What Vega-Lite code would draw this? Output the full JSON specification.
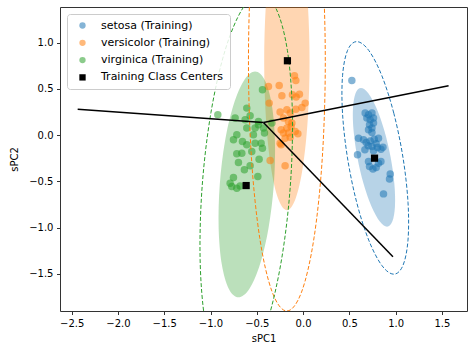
{
  "$schema": "https://vega.github.io/schema/vega-lite/v6.json",
  "width": 407,
  "height": 304,
  "autosize": {"type": "none"},
  "padding": {"left": 60, "top": 7, "right": 7, "bottom": 43},
  "config": {
    "font": "DejaVu Sans",
    "view": {"stroke": "#333", "strokeWidth": 1},
    "axis": {"grid": false, "domain": false, "tickColor": "#333", "tickSize": 3.5, "labelFontSize": 10, "labelColor": "#000", "titleFontSize": 10, "titleFontWeight": "normal", "titleColor": "#000", "labelPadding": 3.5, "titlePadding": 5},
    "axisY": {"titlePadding": 9}
  },
  "datasets": {
    "fills": [
      {"cls": "setosa", "i": 0, "x": 0.946, "y": -0.239},
      {"cls": "setosa", "i": 1, "x": 0.8784, "y": 0.0476},
      {"cls": "setosa", "i": 2, "x": 0.7937, "y": 0.2906},
      {"cls": "setosa", "i": 3, "x": 0.7048, "y": 0.453},
      {"cls": "setosa", "i": 4, "x": 0.6252, "y": 0.51},
      {"cls": "setosa", "i": 5, "x": 0.567, "y": 0.453},
      {"cls": "setosa", "i": 6, "x": 0.5391, "y": 0.2906},
      {"cls": "setosa", "i": 7, "x": 0.5458, "y": 0.0476},
      {"cls": "setosa", "i": 8, "x": 0.586, "y": -0.239},
      {"cls": "setosa", "i": 9, "x": 0.6536, "y": -0.5256},
      {"cls": "setosa", "i": 10, "x": 0.7383, "y": -0.7686},
      {"cls": "setosa", "i": 11, "x": 0.8272, "y": -0.931},
      {"cls": "setosa", "i": 12, "x": 0.9068, "y": -0.988},
      {"cls": "setosa", "i": 13, "x": 0.965, "y": -0.931},
      {"cls": "setosa", "i": 14, "x": 0.9929, "y": -0.7686},
      {"cls": "setosa", "i": 15, "x": 0.9862, "y": -0.5256},
      {"cls": "versicolor", "i": 0, "x": 0.07, "y": 0.8},
      {"cls": "versicolor", "i": 1, "x": 0.0514, "y": 1.4161},
      {"cls": "versicolor", "i": 2, "x": -0.0018, "y": 1.9384},
      {"cls": "versicolor", "i": 3, "x": -0.0812, "y": 2.2875},
      {"cls": "versicolor", "i": 4, "x": -0.175, "y": 2.41},
      {"cls": "versicolor", "i": 5, "x": -0.2688, "y": 2.2875},
      {"cls": "versicolor", "i": 6, "x": -0.3482, "y": 1.9384},
      {"cls": "versicolor", "i": 7, "x": -0.4014, "y": 1.4161},
      {"cls": "versicolor", "i": 8, "x": -0.42, "y": 0.8},
      {"cls": "versicolor", "i": 9, "x": -0.4014, "y": 0.1839},
      {"cls": "versicolor", "i": 10, "x": -0.3482, "y": -0.3384},
      {"cls": "versicolor", "i": 11, "x": -0.2688, "y": -0.6875},
      {"cls": "versicolor", "i": 12, "x": -0.175, "y": -0.81},
      {"cls": "versicolor", "i": 13, "x": -0.0812, "y": -0.6875},
      {"cls": "versicolor", "i": 14, "x": -0.0018, "y": -0.3384},
      {"cls": "versicolor", "i": 15, "x": 0.0514, "y": 0.1839},
      {"cls": "virginica", "i": 0, "x": -0.316, "y": -0.532},
      {"cls": "virginica", "i": 1, "x": -0.3038, "y": -0.0651},
      {"cls": "virginica", "i": 2, "x": -0.3379, "y": 0.3307},
      {"cls": "virginica", "i": 3, "x": -0.4131, "y": 0.5952},
      {"cls": "virginica", "i": 4, "x": -0.518, "y": 0.688},
      {"cls": "virginica", "i": 5, "x": -0.6365, "y": 0.5952},
      {"cls": "virginica", "i": 6, "x": -0.7509, "y": 0.3307},
      {"cls": "virginica", "i": 7, "x": -0.8434, "y": -0.0651},
      {"cls": "virginica", "i": 8, "x": -0.9, "y": -0.532},
      {"cls": "virginica", "i": 9, "x": -0.9122, "y": -0.9989},
      {"cls": "virginica", "i": 10, "x": -0.8781, "y": -1.3947},
      {"cls": "virginica", "i": 11, "x": -0.8029, "y": -1.6592},
      {"cls": "virginica", "i": 12, "x": -0.698, "y": -1.752},
      {"cls": "virginica", "i": 13, "x": -0.5795, "y": -1.6592},
      {"cls": "virginica", "i": 14, "x": -0.4651, "y": -1.3947},
      {"cls": "virginica", "i": 15, "x": -0.3726, "y": -0.9989}
    ],
    "dashes": [
      {"cls": "setosa", "i": 0, "x": 1.08, "y": -0.245},
      {"cls": "setosa", "i": 1, "x": 0.9807, "y": 0.236},
      {"cls": "setosa", "i": 2, "x": 0.8507, "y": 0.6438},
      {"cls": "setosa", "i": 3, "x": 0.71, "y": 0.9163},
      {"cls": "setosa", "i": 4, "x": 0.58, "y": 1.012},
      {"cls": "setosa", "i": 5, "x": 0.4804, "y": 0.9163},
      {"cls": "setosa", "i": 6, "x": 0.4265, "y": 0.6438},
      {"cls": "setosa", "i": 7, "x": 0.4263, "y": 0.236},
      {"cls": "setosa", "i": 8, "x": 0.48, "y": -0.245},
      {"cls": "setosa", "i": 9, "x": 0.5793, "y": -0.726},
      {"cls": "setosa", "i": 10, "x": 0.7093, "y": -1.1338},
      {"cls": "setosa", "i": 11, "x": 0.85, "y": -1.4063},
      {"cls": "setosa", "i": 12, "x": 0.98, "y": -1.502},
      {"cls": "setosa", "i": 13, "x": 1.0796, "y": -1.4063},
      {"cls": "setosa", "i": 14, "x": 1.1335, "y": -1.1338},
      {"cls": "setosa", "i": 15, "x": 1.1337, "y": -0.726},
      {"cls": "versicolor", "i": 0, "x": 0.24, "y": 0.8},
      {"cls": "versicolor", "i": 1, "x": 0.2084, "y": 1.8333},
      {"cls": "versicolor", "i": 2, "x": 0.1184, "y": 2.7092},
      {"cls": "versicolor", "i": 3, "x": -0.0162, "y": 3.2945},
      {"cls": "versicolor", "i": 4, "x": -0.175, "y": 3.5},
      {"cls": "versicolor", "i": 5, "x": -0.3338, "y": 3.2945},
      {"cls": "versicolor", "i": 6, "x": -0.4684, "y": 2.7092},
      {"cls": "versicolor", "i": 7, "x": -0.5584, "y": 1.8333},
      {"cls": "versicolor", "i": 8, "x": -0.59, "y": 0.8},
      {"cls": "versicolor", "i": 9, "x": -0.5584, "y": -0.2333},
      {"cls": "versicolor", "i": 10, "x": -0.4684, "y": -1.1092},
      {"cls": "versicolor", "i": 11, "x": -0.3338, "y": -1.6945},
      {"cls": "versicolor", "i": 12, "x": -0.175, "y": -1.9},
      {"cls": "versicolor", "i": 13, "x": -0.0162, "y": -1.6945},
      {"cls": "versicolor", "i": 14, "x": 0.1184, "y": -1.1092},
      {"cls": "versicolor", "i": 15, "x": 0.2084, "y": -0.2333},
      {"cls": "virginica", "i": 0, "x": -0.138, "y": -0.55},
      {"cls": "virginica", "i": 1, "x": -0.1158, "y": 0.2437},
      {"cls": "virginica", "i": 2, "x": -0.1694, "y": 0.9165},
      {"cls": "virginica", "i": 3, "x": -0.2907, "y": 1.3662},
      {"cls": "virginica", "i": 4, "x": -0.4613, "y": 1.524},
      {"cls": "virginica", "i": 5, "x": -0.6551, "y": 1.3662},
      {"cls": "virginica", "i": 6, "x": -0.8426, "y": 0.9165},
      {"cls": "virginica", "i": 7, "x": -0.9954, "y": 0.2437},
      {"cls": "virginica", "i": 8, "x": -1.09, "y": -0.55},
      {"cls": "virginica", "i": 9, "x": -1.1122, "y": -1.3437},
      {"cls": "virginica", "i": 10, "x": -1.0586, "y": -2.0165},
      {"cls": "virginica", "i": 11, "x": -0.9373, "y": -2.4662},
      {"cls": "virginica", "i": 12, "x": -0.7667, "y": -2.624},
      {"cls": "virginica", "i": 13, "x": -0.5729, "y": -2.4662},
      {"cls": "virginica", "i": 14, "x": -0.3854, "y": -2.0165},
      {"cls": "virginica", "i": 15, "x": -0.2326, "y": -1.3437}
    ],
    "segs": [
      {"x": -2.435, "y": 0.282, "x2": -0.428, "y2": 0.137},
      {"x": -0.428, "y": 0.137, "x2": 1.572, "y2": 0.535},
      {"x": -0.428, "y": 0.137, "x2": 0.971, "y2": -1.313}
    ],
    "pts": [
      {"label": "setosa (Training)", "x": 0.527, "y": 0.592},
      {"label": "setosa (Training)", "x": 0.671, "y": 0.239},
      {"label": "setosa (Training)", "x": 0.707, "y": 0.221},
      {"label": "setosa (Training)", "x": 0.744, "y": 0.239},
      {"label": "setosa (Training)", "x": 0.689, "y": 0.185},
      {"label": "setosa (Training)", "x": 0.725, "y": 0.167},
      {"label": "setosa (Training)", "x": 0.761, "y": 0.185},
      {"label": "setosa (Training)", "x": 0.718, "y": 0.113},
      {"label": "setosa (Training)", "x": 0.744, "y": 0.077},
      {"label": "setosa (Training)", "x": 0.761, "y": 0.131},
      {"label": "setosa (Training)", "x": 0.707, "y": 0.058},
      {"label": "setosa (Training)", "x": 0.744, "y": 0.029},
      {"label": "setosa (Training)", "x": 0.599, "y": -0.032},
      {"label": "setosa (Training)", "x": 0.653, "y": -0.05},
      {"label": "setosa (Training)", "x": 0.682, "y": -0.079},
      {"label": "setosa (Training)", "x": 0.725, "y": -0.061},
      {"label": "setosa (Training)", "x": 0.769, "y": -0.043},
      {"label": "setosa (Training)", "x": 0.79, "y": -0.093},
      {"label": "setosa (Training)", "x": 0.815, "y": -0.032},
      {"label": "setosa (Training)", "x": 0.804, "y": -0.133},
      {"label": "setosa (Training)", "x": 0.841, "y": -0.151},
      {"label": "setosa (Training)", "x": 0.863, "y": -0.129},
      {"label": "setosa (Training)", "x": 0.761, "y": -0.169},
      {"label": "setosa (Training)", "x": 0.744, "y": -0.122},
      {"label": "setosa (Training)", "x": 0.704, "y": -0.115},
      {"label": "setosa (Training)", "x": 0.668, "y": -0.158},
      {"label": "setosa (Training)", "x": 0.588, "y": -0.212},
      {"label": "setosa (Training)", "x": 0.718, "y": -0.339},
      {"label": "setosa (Training)", "x": 0.755, "y": -0.364},
      {"label": "setosa (Training)", "x": 0.79, "y": -0.35},
      {"label": "setosa (Training)", "x": 0.815, "y": -0.302},
      {"label": "setosa (Training)", "x": 0.841, "y": -0.285},
      {"label": "setosa (Training)", "x": 0.707, "y": -0.285},
      {"label": "setosa (Training)", "x": 0.942, "y": -0.418},
      {"label": "setosa (Training)", "x": 0.934, "y": -0.472},
      {"label": "setosa (Training)", "x": 0.869, "y": -0.634},
      {"label": "versicolor (Training)", "x": -0.093, "y": 0.643},
      {"label": "versicolor (Training)", "x": -0.078, "y": 0.592},
      {"label": "versicolor (Training)", "x": -0.374, "y": 0.527},
      {"label": "versicolor (Training)", "x": -0.258, "y": 0.538},
      {"label": "versicolor (Training)", "x": -0.229, "y": 0.426},
      {"label": "versicolor (Training)", "x": -0.115, "y": 0.437},
      {"label": "versicolor (Training)", "x": -0.039, "y": 0.444},
      {"label": "versicolor (Training)", "x": -0.366, "y": 0.347},
      {"label": "versicolor (Training)", "x": 0.023, "y": 0.347},
      {"label": "versicolor (Training)", "x": -0.013, "y": 0.3},
      {"label": "versicolor (Training)", "x": -0.248, "y": 0.25},
      {"label": "versicolor (Training)", "x": -0.175, "y": 0.275},
      {"label": "versicolor (Training)", "x": -0.139, "y": 0.239},
      {"label": "versicolor (Training)", "x": -0.078, "y": 0.282},
      {"label": "versicolor (Training)", "x": -0.212, "y": 0.185},
      {"label": "versicolor (Training)", "x": -0.158, "y": 0.149},
      {"label": "versicolor (Training)", "x": -0.121, "y": 0.131},
      {"label": "versicolor (Training)", "x": -0.237, "y": 0.058},
      {"label": "versicolor (Training)", "x": -0.175, "y": 0.077},
      {"label": "versicolor (Training)", "x": -0.129, "y": 0.094},
      {"label": "versicolor (Training)", "x": -0.212, "y": 0.023},
      {"label": "versicolor (Training)", "x": -0.158, "y": 0.023},
      {"label": "versicolor (Training)", "x": -0.085, "y": 0.04},
      {"label": "versicolor (Training)", "x": -0.056, "y": 0.015},
      {"label": "versicolor (Training)", "x": -0.194, "y": -0.032},
      {"label": "versicolor (Training)", "x": -0.139, "y": -0.021},
      {"label": "versicolor (Training)", "x": -0.237, "y": -0.104},
      {"label": "versicolor (Training)", "x": -0.356, "y": -0.274},
      {"label": "versicolor (Training)", "x": -0.194, "y": -0.331},
      {"label": "versicolor (Training)", "x": -0.075, "y": 0.412},
      {"label": "versicolor (Training)", "x": -0.248, "y": -0.086},
      {"label": "virginica (Training)", "x": -0.439, "y": 0.491},
      {"label": "virginica (Training)", "x": -0.921, "y": 0.221},
      {"label": "virginica (Training)", "x": -0.608, "y": 0.293},
      {"label": "virginica (Training)", "x": -0.734, "y": 0.185},
      {"label": "virginica (Training)", "x": -0.572, "y": 0.21},
      {"label": "virginica (Training)", "x": -0.626, "y": 0.167},
      {"label": "virginica (Training)", "x": -0.482, "y": 0.149},
      {"label": "virginica (Training)", "x": -0.608, "y": 0.077},
      {"label": "virginica (Training)", "x": -0.518, "y": 0.077},
      {"label": "virginica (Training)", "x": -0.428, "y": 0.077},
      {"label": "virginica (Training)", "x": -0.716, "y": 0.004},
      {"label": "virginica (Training)", "x": -0.752, "y": -0.05},
      {"label": "virginica (Training)", "x": -0.655, "y": -0.068},
      {"label": "virginica (Training)", "x": -0.536, "y": 0.004},
      {"label": "virginica (Training)", "x": -0.518, "y": -0.086},
      {"label": "virginica (Training)", "x": -0.608, "y": -0.104},
      {"label": "virginica (Training)", "x": -0.439, "y": -0.14},
      {"label": "virginica (Training)", "x": -0.417, "y": 0.023},
      {"label": "virginica (Training)", "x": -0.662, "y": -0.194},
      {"label": "virginica (Training)", "x": -0.554, "y": -0.176},
      {"label": "virginica (Training)", "x": -0.716, "y": -0.2},
      {"label": "virginica (Training)", "x": -0.475, "y": -0.259},
      {"label": "virginica (Training)", "x": -0.698, "y": -0.295},
      {"label": "virginica (Training)", "x": -0.634, "y": -0.374},
      {"label": "virginica (Training)", "x": -0.572, "y": -0.331},
      {"label": "virginica (Training)", "x": -0.489, "y": -0.447},
      {"label": "virginica (Training)", "x": -0.752, "y": -0.458},
      {"label": "virginica (Training)", "x": -0.788, "y": -0.519},
      {"label": "virginica (Training)", "x": -0.77, "y": -0.555},
      {"label": "virginica (Training)", "x": -0.716, "y": -0.573},
      {"label": "virginica (Training)", "x": -0.68, "y": -0.548},
      {"label": "virginica (Training)", "x": -0.482, "y": 0.113},
      {"label": "virginica (Training)", "x": -0.453, "y": -0.086},
      {"label": "virginica (Training)", "x": -0.337, "y": 0.131},
      {"label": "Training Class Centers", "x": 0.772, "y": -0.248},
      {"label": "Training Class Centers", "x": -0.169, "y": 0.805},
      {"label": "Training Class Centers", "x": -0.615, "y": -0.544}
    ]
  },
  "layer": [
    {
      "data": {"name": "fills"},
      "mark": {"type": "line", "interpolate": "cardinal-closed", "strokeWidth": 0, "fillOpacity": 0.32, "clip": true},
      "encoding": {
        "x": {"field": "x", "type": "quantitative", "scale": {"domain": [-2.626, 1.771], "nice": false, "zero": false}, "axis": {"title": "sPC1", "values": [-2.5, -2, -1.5, -1, -0.5, 0, 0.5, 1, 1.5], "format": ".1f"}},
        "y": {"field": "y", "type": "quantitative", "scale": {"domain": [-1.9, 1.386], "nice": false, "zero": false}, "axis": {"title": "sPC2", "values": [-1.5, -1, -0.5, 0, 0.5, 1], "format": ".1f"}},
        "order": {"field": "i", "type": "quantitative"},
        "detail": {"field": "cls", "type": "nominal"},
        "fill": {"field": "cls", "type": "nominal", "scale": {"domain": ["setosa", "versicolor", "virginica"], "range": ["#1f77b4", "#ff7f0e", "#2ca02c"]}, "legend": null}
      }
    },
    {
      "data": {"name": "pts"},
      "transform": [{"filter": "datum.label != 'Training Class Centers'"}],
      "mark": {"type": "point", "filled": true, "size": 56, "strokeWidth": 0, "opacity": 1},
      "encoding": {
        "x": {"field": "x", "type": "quantitative", "scale": {"domain": [-2.626, 1.771], "nice": false, "zero": false}},
        "y": {"field": "y", "type": "quantitative", "scale": {"domain": [-1.9, 1.386], "nice": false, "zero": false}},
        "color": {"field": "label", "type": "nominal", "scale": {"domain": ["setosa (Training)", "versicolor (Training)", "virginica (Training)", "Training Class Centers"], "range": ["rgba(31,119,180,0.55)", "rgba(255,127,14,0.55)", "rgba(44,160,44,0.55)", "#000000"]},
          "legend": {"title": null, "orient": "top-left", "offset": 7, "padding": 6, "rowPadding": 5.3, "labelFontSize": 11, "labelColor": "#000", "symbolSize": 40, "symbolStrokeWidth": 0, "symbolOpacity": 1, "symbolOffset": 4, "labelOffset": 13, "fillColor": "rgba(255,255,255,0.85)", "strokeColor": "#cccccc", "cornerRadius": 3}},
        "shape": {"field": "label", "type": "nominal", "scale": {"domain": ["setosa (Training)", "versicolor (Training)", "virginica (Training)", "Training Class Centers"], "range": ["circle", "circle", "circle", "square"]}}
      }
    },
    {
      "data": {"name": "dashes"},
      "mark": {"type": "line", "interpolate": "cardinal-closed", "strokeWidth": 1, "strokeDash": [4, 2], "clip": true},
      "encoding": {
        "x": {"field": "x", "type": "quantitative", "scale": {"domain": [-2.626, 1.771], "nice": false, "zero": false}},
        "y": {"field": "y", "type": "quantitative", "scale": {"domain": [-1.9, 1.386], "nice": false, "zero": false}},
        "order": {"field": "i", "type": "quantitative"},
        "detail": {"field": "cls", "type": "nominal"},
        "stroke": {"field": "cls", "type": "nominal", "scale": {"domain": ["setosa", "versicolor", "virginica"], "range": ["#1f77b4", "#ff7f0e", "#2ca02c"]}, "legend": null}
      }
    },
    {
      "data": {"name": "segs"},
      "mark": {"type": "rule", "color": "#000000", "strokeWidth": 1.5, "clip": true},
      "encoding": {
        "x": {"field": "x", "type": "quantitative", "scale": {"domain": [-2.626, 1.771], "nice": false, "zero": false}},
        "y": {"field": "y", "type": "quantitative", "scale": {"domain": [-1.9, 1.386], "nice": false, "zero": false}},
        "x2": {"field": "x2"},
        "y2": {"field": "y2"}
      }
    },
    {
      "data": {"name": "pts"},
      "transform": [{"filter": "datum.label == 'Training Class Centers'"}],
      "mark": {"type": "point", "filled": true, "size": 52, "strokeWidth": 0, "opacity": 1},
      "encoding": {
        "x": {"field": "x", "type": "quantitative", "scale": {"domain": [-2.626, 1.771], "nice": false, "zero": false}},
        "y": {"field": "y", "type": "quantitative", "scale": {"domain": [-1.9, 1.386], "nice": false, "zero": false}},
        "color": {"field": "label", "type": "nominal", "scale": {"domain": ["setosa (Training)", "versicolor (Training)", "virginica (Training)", "Training Class Centers"], "range": ["rgba(31,119,180,0.55)", "rgba(255,127,14,0.55)", "rgba(44,160,44,0.55)", "#000000"]}},
        "shape": {"field": "label", "type": "nominal", "scale": {"domain": ["setosa (Training)", "versicolor (Training)", "virginica (Training)", "Training Class Centers"], "range": ["circle", "circle", "circle", "square"]}}
      }
    }
  ]
}
